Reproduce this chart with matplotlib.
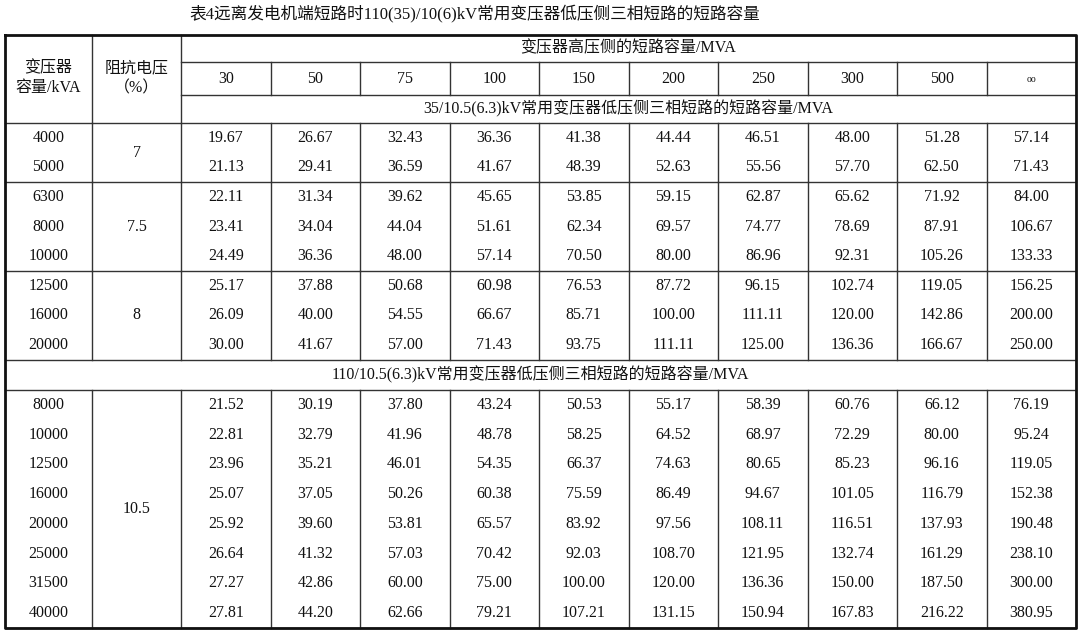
import matplotlib.pyplot as plt

plt.rcParams["font.family"] = ["Liberation Serif", "Noto Sans CJK SC"]

title = "表4远离发电机端短路时110(35)/10(6)kV常用变压器低压侧三相短路的短路容量"
hv_caps = ["30", "50", "75", "100", "150", "200", "250", "300", "500", "oo"]

# 35/10.5(6.3)kV
groups_35 = [
    ("7", ["4000", "5000"], [
        [19.67, 26.67, 32.43, 36.36, 41.38, 44.44, 46.51, 48.00, 51.28, 57.14],
        [21.13, 29.41, 36.59, 41.67, 48.39, 52.63, 55.56, 57.70, 62.50, 71.43],
    ]),
    ("7.5", ["6300", "8000", "10000"], [
        [22.11, 31.34, 39.62, 45.65, 53.85, 59.15, 62.87, 65.62, 71.92, 84.00],
        [23.41, 34.04, 44.04, 51.61, 62.34, 69.57, 74.77, 78.69, 87.91, 106.67],
        [24.49, 36.36, 48.00, 57.14, 70.50, 80.00, 86.96, 92.31, 105.26, 133.33],
    ]),
    ("8", ["12500", "16000", "20000"], [
        [25.17, 37.88, 50.68, 60.98, 76.53, 87.72, 96.15, 102.74, 119.05, 156.25],
        [26.09, 40.00, 54.55, 66.67, 85.71, 100.00, 111.11, 120.00, 142.86, 200.00],
        [30.00, 41.67, 57.00, 71.43, 93.75, 111.11, 125.00, 136.36, 166.67, 250.00],
    ]),
]
# 110/10.5(6.3)kV
groups_110 = [
    ("10.5", ["8000", "10000", "12500", "16000", "20000", "25000", "31500", "40000"], [
        [21.52, 30.19, 37.80, 43.24, 50.53, 55.17, 58.39, 60.76, 66.12, 76.19],
        [22.81, 32.79, 41.96, 48.78, 58.25, 64.52, 68.97, 72.29, 80.00, 95.24],
        [23.96, 35.21, 46.01, 54.35, 66.37, 74.63, 80.65, 85.23, 96.16, 119.05],
        [25.07, 37.05, 50.26, 60.38, 75.59, 86.49, 94.67, 101.05, 116.79, 152.38],
        [25.92, 39.60, 53.81, 65.57, 83.92, 97.56, 108.11, 116.51, 137.93, 190.48],
        [26.64, 41.32, 57.03, 70.42, 92.03, 108.70, 121.95, 132.74, 161.29, 238.10],
        [27.27, 42.86, 60.00, 75.00, 100.00, 120.00, 136.36, 150.00, 187.50, 300.00],
        [27.81, 44.20, 62.66, 79.21, 107.21, 131.15, 150.94, 167.83, 216.22, 380.95],
    ]),
]

W, H = 1080, 635
fig = plt.figure(figsize=(W / 100, H / 100), dpi=100)
ax = fig.add_axes([0, 0, 1, 1])
ax.set_xlim(0, W)
ax.set_ylim(H, 0)
ax.axis("off")

X0, X1, X2, XR = 5, 92, 181, 1076
cw = (XR - X2) / 10
cols = [X2 + i * cw for i in range(11)]
FS = 11.5
lc = "#333333"


def hline(y, a=X0, b=XR, lw=1.0):
    ax.plot([a, b], [y, y], color=lc, lw=lw)


def vline(x, a, b, lw=1.0):
    ax.plot([x, x], [a, b], color=lc, lw=lw)


def txt(x, y, s, fs=FS):
    ax.text(x, y, s, ha="center", va="center", fontsize=fs, color="#111111")


txt(475, 13, title, fs=12)

TOP, BOT = 35, 628
# header
hline(62, X2, XR)
hline(95, X2, XR)
hline(123)
txt(X0 + (X1 - X0) / 2, 68, "变压器")
txt(X0 + (X1 - X0) / 2, 88, "容量/kVA")
txt((X1 + X2) / 2, 68, "阻抗电压")
txt((X1 + X2) / 2, 88, "（%）")
txt((X2 + XR) / 2, 48, "变压器高压侧的短路容量/MVA")
for i, c in enumerate(hv_caps):
    txt((cols[i] + cols[i + 1]) / 2, 79, c, fs=7 if c == "oo" else FS)
    if i > 0:
        vline(cols[i], 62, 95)
txt((X2 + XR) / 2, 109, "35/10.5(6.3)kV常用变压器低压侧三相短路的短路容量/MVA")
vline(X1, TOP, 123)
vline(X2, TOP, 123)


def draw_groups(groups, y, rh):
    for uk, caps, vals in groups:
        y_end = y + rh * len(caps)
        txt((X1 + X2) / 2, (y + y_end) / 2, uk)
        for r, (cap, row) in enumerate(zip(caps, vals)):
            yc = y + rh * (r + 0.5)
            txt((X0 + X1) / 2, yc, cap)
            for i, v in enumerate(row):
                txt((cols[i] + cols[i + 1]) / 2, yc, f"{v:.2f}")
        for x in [X1] + cols[:-1]:
            vline(x, y, y_end)
        hline(y_end)
        y = y_end
    return y


y = draw_groups(groups_35, 123, 29.6)
txt((X0 + XR) / 2, (y + 390) / 2, "110/10.5(6.3)kV常用变压器低压侧三相短路的短路容量/MVA")
hline(390)
draw_groups(groups_110, 390, (BOT - 390) / 8)

# outer border
ax.plot([X0, XR, XR, X0, X0], [TOP, TOP, BOT, BOT, TOP], color="#111111", lw=2)

fig.savefig("out.png", dpi=100)
